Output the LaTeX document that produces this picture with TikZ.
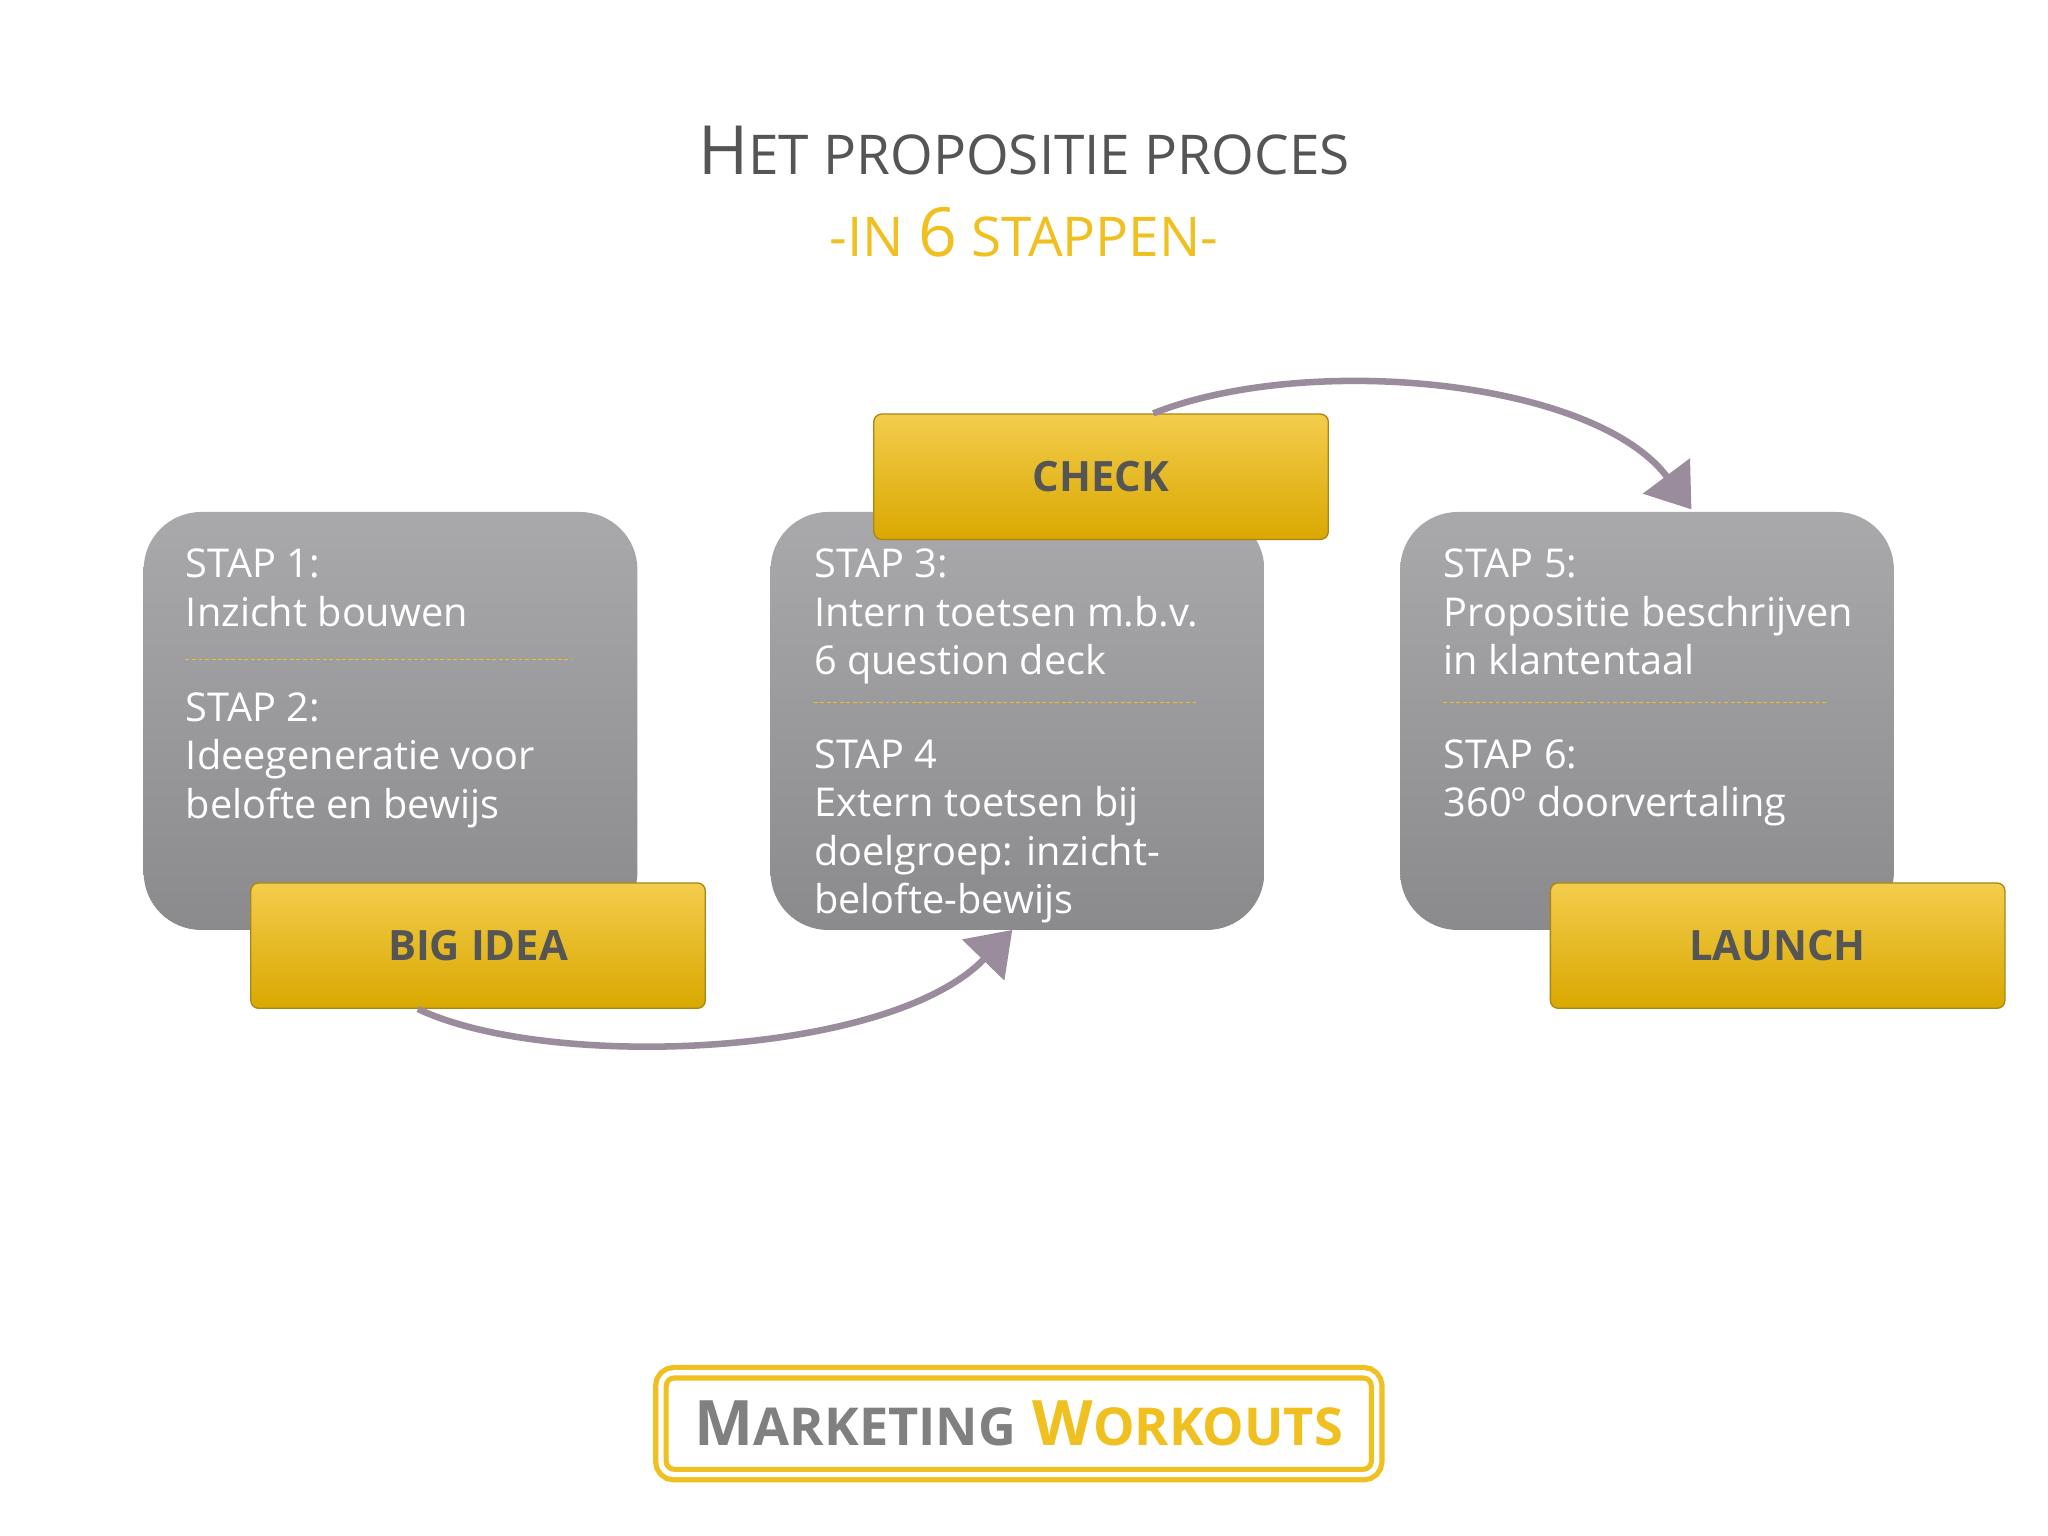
\documentclass[tikz,border=0pt]{standalone}
\usepackage{fontspec}
\setmainfont{Open Sans}
\usepackage{xcolor}
\usetikzlibrary{arrows.meta}
\definecolor{goud}{HTML}{F0C020}
\definecolor{donkergoud}{HTML}{D9A800}
\definecolor{stapgrijs}{HTML}{9A9A9D}
\definecolor{titelgrijs}{HTML}{555555}
\definecolor{pijlpaars}{HTML}{9A8C9C}
\begin{document}
\begin{tikzpicture}[x=0.5pt,y=-0.5pt,inner sep=0pt,
  stapbox/.style={draw=none,rounded corners=22pt,top color=stapgrijs!85!white,bottom color=stapgrijs!90!black},
  fasebox/.style={rounded corners=3pt,top color=goud!80!white,bottom color=donkergoud,draw=goud!70!black,line width=0.5pt,font=\fontsize{16}{18}\selectfont\bfseries,text=titelgrijs},
  staptekst/.style={anchor=north west,align=left,text=white,font=\fontsize{15.2}{18.5}\selectfont},
  scheiding/.style={goud,dashed,line width=0.5pt,dash pattern=on 1.5pt off 1pt},
  boog/.style={pijlpaars,line width=2.5pt,-{Triangle[length=16pt,width=22pt]}}]
\useasboundingbox[fill=white] (0,0) rectangle (1568,1176);
% titel
\node (titel) [at={(784,115)},text=titelgrijs,font=\fontsize{21}{26}\selectfont] {\fontsize{26}{30}\selectfont H\fontsize{21}{26}\selectfont ET PROPOSITIE PROCES};
\node (sub) [at={(784,178)},text=goud,font=\fontsize{21}{26}\selectfont] {-IN \fontsize{26}{30}\selectfont 6\fontsize{21}{26}\selectfont{} STAPPEN-};
% stapblokken
\node (b1) [stapbox,minimum width=189pt,minimum height=160pt,at={(299,552)}] {};
\node (b2) [stapbox,minimum width=189pt,minimum height=160pt,at={(779,552)}] {};
\node (b3) [stapbox,minimum width=189pt,minimum height=160pt,at={(1261,552)}] {};
\node (t1) [staptekst,at={(142,420)}] {STAP 1:\\Inzicht bouwen};
\node (t2) [staptekst,at={(142,530)}] {STAP 2:\\Ideegeneratie voor\\belofte en bewijs};
\node (t3) [staptekst,at={(623,420)}] {STAP 3:\\Intern toetsen m.b.v.\\6 question deck};
\node (t4) [staptekst,at={(623,566)}] {STAP 4\\Extern toetsen bij\\doelgroep: inzicht-\\belofte-bewijs};
\node (t5) [staptekst,at={(1105,420)}] {STAP 5:\\Propositie beschrijven\\in klantentaal};
\node (t6) [staptekst,at={(1105,566)}] {STAP 6:\\360º doorvertaling};
\coordinate (s1a) at (142,505); \coordinate (s1b) at (438,505);
\coordinate (s2a) at (623,538); \coordinate (s2b) at (918,538);
\coordinate (s3a) at (1105,538); \coordinate (s3b) at (1400,538);
\draw[scheiding] (s1a) -- (s1b);
\draw[scheiding] (s2a) -- (s2b);
\draw[scheiding] (s3a) -- (s3b);
% fases
\node (idee) [fasebox,minimum width=174pt,minimum height=48pt,at={(366,724)}] {BIG IDEA};
\node (check) [fasebox,minimum width=174pt,minimum height=48pt,at={(843,365)}] {CHECK};
\node (launch) [fasebox,minimum width=174pt,minimum height=48pt,at={(1361,724)}] {LAUNCH};
% bogen
\coordinate (naar2) at (775,712);
\coordinate (naar3) at (1295,390);
\draw[boog] ([xshift=-23pt]idee.south) .. controls (420,820) and (680,810) .. (naar2);
\draw[boog] ([xshift=20pt]check.north) .. controls (1000,270) and (1220,290) .. (naar3);
% logo
\node (logo) [draw=goud,line width=2pt,double=white,double distance=2pt,rounded corners=5pt,minimum width=274pt,minimum height=39pt,at={(780,1090)},font=\fontsize{24}{26}\selectfont\bfseries] {\textcolor{gray}{M\fontsize{20}{26}\selectfont ARKETING} \textcolor{goud}{\fontsize{24}{26}\selectfont W\fontsize{20}{26}\selectfont ORKOUTS}};
\end{tikzpicture}
\end{document}
